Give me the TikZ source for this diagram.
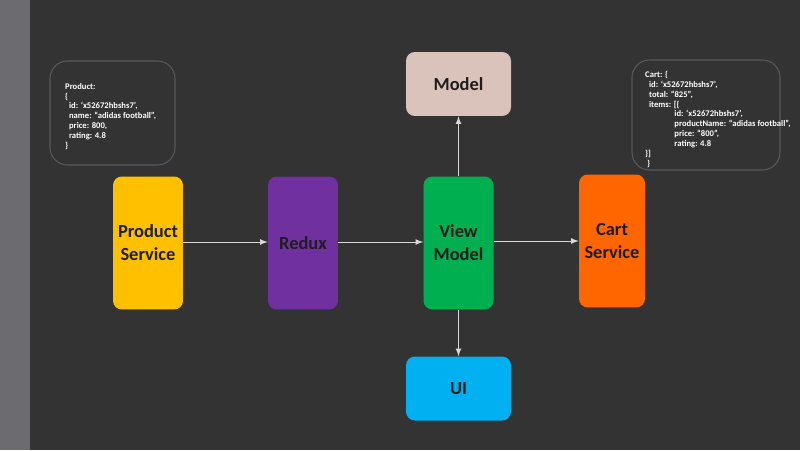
\documentclass[tikz,border=0pt]{standalone}
\usepackage{fontspec}
\setmainfont{Carlito}
\begin{document}
\begin{tikzpicture}[x=0.02cm,y=-0.02cm,
  blk/.style={rounded corners=5pt,minimum width=1.4cm,minimum height=2.66cm,inner sep=0pt,align=center,font=\bfseries\fontsize{10.5}{13}\selectfont,text={rgb,255:red,30;green,30;blue,30}},
  wide/.style={rounded corners=5pt,minimum width=2.1cm,minimum height=1.28cm,inner sep=0pt,font=\bfseries\fontsize{10.5}{13}\selectfont,text={rgb,255:red,30;green,30;blue,30}},
  info/.style={draw=gray!70!black,line width=0.6pt,rounded corners=10pt,inner sep=0pt},
  small/.style={font=\bfseries\fontsize{4.9}{5.6}\selectfont,text=white,align=left,anchor=north west},
  arr/.style={draw=white!85!black,line width=0.5pt,-latex}]
\fill[fill={rgb,255:red,51;green,51;blue,51}] (0,0) rectangle (800,450);
\fill[fill={rgb,255:red,107;green,107;blue,112}] (0,0) rectangle (30,450);
\useasboundingbox (0,0) rectangle (800,450);
\node[blk,fill={rgb,255:red,255;green,192;blue,0}] (ps) at (148,243) {Product\\Service};
\node[blk,fill={rgb,255:red,112;green,48;blue,160}] (rx) at (303,243) {Redux};
\node[blk,fill={rgb,255:red,0;green,176;blue,80}] (vm) at (458.5,243) {View\\Model};
\node[blk,fill={rgb,255:red,255;green,102;blue,0},minimum width=1.32cm] (cs) at (612,241) {Cart\\Service};
\node[wide,fill={rgb,255:red,217;green,195;blue,186}] (md) at (458.5,84) {Model};
\node[wide,fill={rgb,255:red,0;green,176;blue,240}] (ui) at (458.5,388.5) {UI};
\draw[arr] (ps.east|-0,242) -- (rx.west|-0,242);
\draw[arr] (rx.east|-0,242) -- (vm.west|-0,242);
\draw[arr] (vm.east|-0,241) -- (cs.west|-0,241);
\draw[arr] (vm) -- (md);
\draw[arr] (vm) -- (ui);
\draw[info] (50,61) rectangle (175,165);
\node[small] (pt) at (59,77) {Product:\\\{\\\ \ id: ‘x52672hbshs7’,\\\ \ name: “adidas football”,\\\ \ price: 800,\\\ \ rating: 4.8\\\}};
\draw[info] (632,60) rectangle (780,170);
\node[small] (ct) at (639,65) {Cart: \{\\\ \ id: ‘x52672hbshs7’,\\\ \ total: “825”,\\\ \ items: [\{\\\hspace{3.4em}id: ‘x52672hbshs7’,\\\hspace{3.4em}productName: “adidas football”,\\\hspace{3.4em}price: “800”,\\\hspace{3.4em}rating: 4.8\\\}]\\\ \}};
\end{tikzpicture}
\end{document}
